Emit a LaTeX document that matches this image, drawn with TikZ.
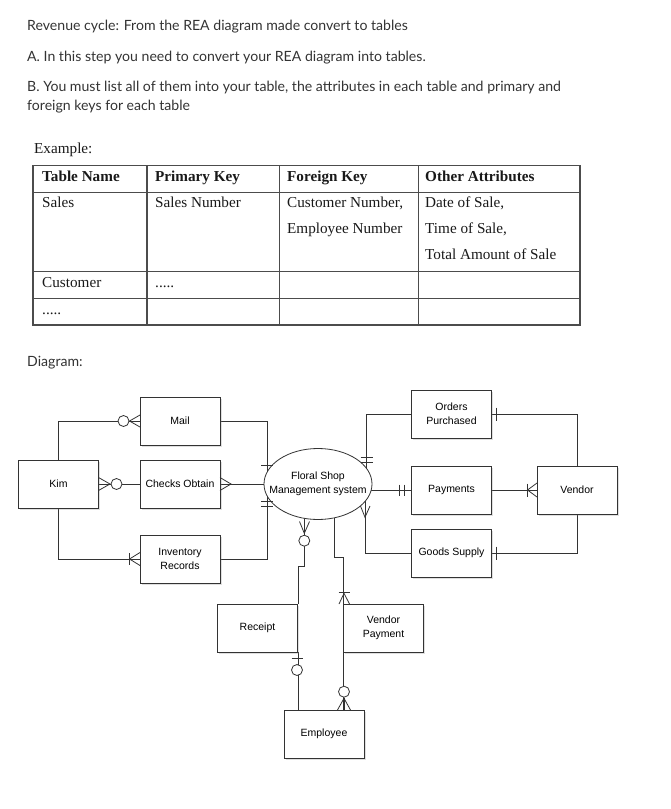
\documentclass[tikz,border=0pt]{standalone}
\usepackage{fontspec}
\setmainfont{Lato}
\newfontfamily\tabfont{Liberation Serif}
\newfontfamily\diafont{Liberation Sans}
\usetikzlibrary{shapes.geometric,shadows,backgrounds}
\begin{document}
\begin{tikzpicture}[x=1pt,y=-1pt,
  ptext/.style={anchor=base west, inner sep=0pt, font=\fontsize{14.1}{16}\selectfont, text=black!80},
  ttext/.style={anchor=base west, inner sep=0pt, font=\tabfont\fontsize{15.2}{18}\selectfont, text=black!90},
  tline/.style={draw=black!70, line width=1.1pt},
  ebox/.style={draw=black!80, fill=white, line width=0.8pt, minimum width=80pt, minimum height=48pt,
    inner sep=1pt, align=center, font=\diafont\fontsize{10.5}{14}\selectfont,
    drop shadow={shadow xshift=1.5pt, shadow yshift=-1.5pt, opacity=0.25}},
  ell/.style={ellipse, draw=black!80, fill=white, line width=0.8pt, minimum width=108pt, minimum height=71pt, inner sep=0pt},
  dtext/.style={inner sep=0pt, align=center, font=\diafont\fontsize{10.5}{14}\selectfont},
  conn/.style={draw=black!80, line width=0.8pt},
  mk/.style={draw=black!80, line width=0.8pt},
  mkc/.style={draw=black!80, line width=0.8pt, fill=white}
]
\useasboundingbox (0,0) rectangle (670,809);

% ---- intro text
\node[ptext] (t1) at (27,30) {Revenue cycle: From the REA diagram made convert to tables};
\node[ptext] (t2) at (27,61) {A. In this step you need to convert your REA diagram into tables.};
\node[ptext] (t3) at (27,91) {B. You must list all of them into your table, the attributes in each table and primary and};
\node[ptext] (t4) at (27,110) {foreign keys for each table};

% ---- example table
\node[ttext] (ex) at (34,153) {Example:};
\draw[tline] (33,165.7) rectangle (580,325);
\draw[tline] (33,192.3) -- (580,192.3);
\draw[tline] (33,271.7) -- (580,271.7);
\draw[tline] (33,298.3) -- (580,298.3);
\draw[tline] (147,165.7) -- (147,325);
\draw[tline] (279.5,165.7) -- (279.5,325);
\draw[tline] (418.5,165.7) -- (418.5,325);
\node[ttext] (h1) at (42,181) {\bfseries Table Name};
\node[ttext] (h2) at (155,181) {\bfseries Primary Key};
\node[ttext] (h3) at (287,181) {\bfseries Foreign Key};
\node[ttext] (h4) at (425,181) {\bfseries Other Attributes};
\node[ttext] (r1a) at (42,207) {Sales};
\node[ttext] (r1b) at (155,207) {Sales Number};
\node[ttext] (r1c) at (287,207) {Customer Number,};
\node[ttext] (r1d) at (287,233) {Employee Number};
\node[ttext] (r1e) at (425,207) {Date of Sale,};
\node[ttext] (r1f) at (425,233) {Time of Sale,};
\node[ttext] (r1g) at (425,259) {Total Amount of Sale};
\node[ttext] (r2a) at (42,287) {Customer};
\node[ttext] (r2b) at (155,287) {.....};
\node[ttext] (r3a) at (42,314) {.....};

\node[ptext] (dg) at (27,366) {Diagram:};

% ---- diagram nodes
\node[ebox] (kim) at (58.5,484) {Kim};
\node[ebox] (mail) at (180,421) {Mail};
\node[ebox] (checks) at (180,484) {Checks Obtain};
\node[ebox] (inv) at (180,559) {Inventory\\Records};
\node[ell] (fsm) at (318,484) {};
\node[dtext] (fsmt) at (318,484) {Floral Shop\\Management system};
\node[ebox] (orders) at (451.5,414) {Orders\\Purchased};
\node[ebox] (pay) at (451.5,490) {Payments};
\node[ebox] (goods) at (451.5,553) {Goods Supply};
\node[ebox] (vendor) at (577,490) {Vendor};
\node[ebox] (receipt) at (257.5,628) {Receipt};
\node[ebox] (vp) at (383.5,628) {Vendor\\Payment};
\node[ebox] (emp) at (324,734) {Employee};

% ---- connectors (behind the shapes)
\coordinate (lj) at (267,484);
\coordinate (oj) at (366.7,484);
\coordinate (pj) at (350,490);
\coordinate (gj) at (365,490);
\coordinate (rj) at (304.3,500);
\coordinate (rk) at (304.3,566.7);
\coordinate (vj) at (334,500);
\coordinate (vk) at (334,557.3);
\begin{pgfonlayer}{background}
\draw[conn] (kim.north) |- (mail.west);
\draw[conn] (kim.east) -- (checks.west);
\draw[conn] (kim.south) |- (inv.west);
\draw[conn] (checks.east) -- (fsm.west);
\draw[conn] (mail.east) -| (lj);
\draw[conn] (inv.east) -| (lj);
\draw[conn] (oj) |- (orders.west);
\draw[conn] (pj) -- (pay.west);
\draw[conn] (goods.west) -| (gj);
\draw[conn] (pay.east) -- (vendor.west);
\draw[conn] (orders.east) -| (vendor.north);
\draw[conn] (goods.east) -| (vendor.south);
\draw[conn] (rj) -- (rk) -| (receipt.north east);
\draw[conn] (vj) -- (vk) -| (vp.north west);
\draw[conn] (receipt.south east) -- (receipt.south east |- emp.north);
\draw[conn] (vp.south west) -- (vp.south west |- emp.north);
\end{pgfonlayer}

% ---- cardinality markers
% Kim - Mail : zero or many at Mail
\draw[mk] (140,415) -- (129.5,421) -- (140,427);
\draw[mkc] (123.5,421) circle[radius=5.5];
% Kim - Checks : zero or many at Kim
\draw[mk] (98.5,477.5) -- (110,484) -- (98.5,490.5);
\draw[mkc] (116.5,484) circle[radius=5.5];
% Checks - FSM : many at Checks
\draw[mk] (220,477.5) -- (231,484) -- (220,490.5);
% Kim - Inventory : one or many at Inventory
\draw[mk] (140,552.5) -- (129.5,559) -- (140,565.5);
\draw[mk] (129,553) -- (129,565);
% Mail / Inventory - FSM
\draw[mk] (261,465) -- (273,465);
\draw[mk] (261,501) -- (273,501);
\draw[mk] (261,506) -- (273,506);
% Orders - FSM
\draw[mk] (360.7,457.5) -- (373,457.5);
\draw[mk] (360.7,462.5) -- (373,462.5);
% FSM - Payments
\draw[mk] (399.5,484.5) -- (399.5,496);
\draw[mk] (404.5,484.5) -- (404.5,496);
% Payments - Vendor : one or many at Vendor
\draw[mk] (537,483) -- (527.5,490) -- (537,497);
\draw[mk] (527,483.5) -- (527,496.5);
% Orders / Goods - Vendor
\draw[mk] (496,407.5) -- (496,420.5);
\draw[mk] (496,546.5) -- (496,559.5);
% Goods - FSM : many at FSM
\draw[mk] (360.5,506) -- (365,517.3) -- (370,506);
% FSM - Receipt : zero or many at FSM
\draw[mk] (299.5,521.5) -- (304.3,533.3) -- (309.5,521.5);
\draw[mkc] (304.3,540.7) circle[radius=5.5];
% Receipt - Employee
\draw[mk] (291.5,658.3) -- (303,658.3);
\draw[mkc] (297,670) circle[radius=5.5];
% FSM - Vendor Payment : one or many at VP
\draw[mk] (339,604) -- (344,593.3) -- (349.5,604);
\draw[mk] (338.5,592.7) -- (350,592.7);
% Vendor Payment - Employee : zero or many at Employee
\draw[mkc] (344,691.7) circle[radius=5.5];
\draw[mk] (337.5,710) -- (344,698.3) -- (350.5,710);
\draw[mk] (344,698.3) -- (344,710);
\end{tikzpicture}
\end{document}
